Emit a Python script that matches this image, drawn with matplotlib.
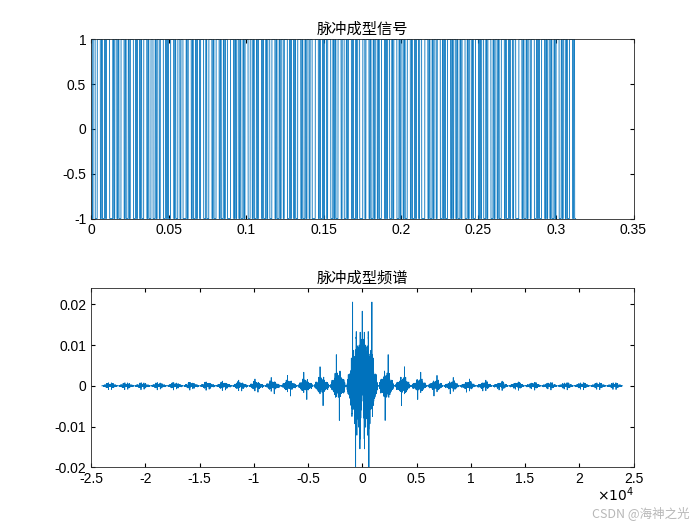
import numpy as np
import matplotlib
matplotlib.use("Agg")
import matplotlib.pyplot as plt

plt.rcParams['font.family'] = ['Liberation Sans', 'Noto Sans CJK SC', 'DejaVu Sans']

fs = 48000
samples_per_bit = 32
bits = (
    "1011001110100101110001011010011101001011100101101001110100110"
    "0101101110010100111010011011000101110100101101110010011101001"
    "1101001011000111010110100101110011010010111010010110011101001"
    "0110111001011010011101001011011000111010010110111001010011101"
    "1001011101001011000110111010010110100111010110010111001011010"
    "0111010010110110001110100101101110010100111010110100101110010"
    "1101001110101100101110010110100111010010110110001110100101101"
    "110010100111010110100101110010110100111010"
)
titles = ["脉冲成型信号", "脉冲成型频谱"]

b = np.array([int(c) for c in bits])
sig = np.repeat(2 * b - 1, samples_per_bit).astype(float)
N = len(sig)
t = np.arange(N) / fs
spec = np.real(np.fft.fftshift(np.fft.fft(sig))) / N / 5
f = (np.arange(N) - N // 2) * fs / N

fig = plt.figure(figsize=(7, 5.25), dpi=100)
col = '#0072BD'
ax1 = fig.add_axes([0.13, 0.5838, 0.775, 0.3412])
ax1.plot(t, sig, color=col, lw=0.6)
ax1.set_xlim(0, 0.35)
ax1.set_ylim(-1, 1)
ax1.set_xticks(np.arange(0, 0.351, 0.05))
ax1.set_xticklabels(["0", "0.05", "0.1", "0.15", "0.2", "0.25", "0.3", "0.35"])
ax1.set_yticks([-1, -0.5, 0, 0.5, 1])
ax1.set_yticklabels(["-1", "-0.5", "0", "0.5", "1"])
ax1.set_title(titles[0], fontsize=11, pad=4)

ax2 = fig.add_axes([0.13, 0.11, 0.775, 0.3412])
ax2.plot(f, spec, color=col, lw=0.6)
ax2.set_xlim(-25000, 25000)
ax2.set_ylim(-0.02, 0.024)
ax2.set_xticks(np.arange(-25000, 25001, 5000))
ax2.set_xticklabels(["-2.5", "-2", "-1.5", "-1", "-0.5", "0", "0.5", "1", "1.5", "2", "2.5"])
ax2.set_yticks([-0.02, -0.01, 0, 0.01, 0.02])
ax2.set_yticklabels(["-0.02", "-0.01", "0", "0.01", "0.02"])
ax2.set_title(titles[1], fontsize=11, pad=4)
ax2.text(1.0, -0.1, r"$\times10^4$", transform=ax2.transAxes, ha='right', va='top', fontsize=10)

for ax in (ax1, ax2):
    ax.tick_params(direction='in', labelsize=10, top=True, right=True, length=3)
    for s in ax.spines.values():
        s.set_color('#262626'); s.set_linewidth(0.6)

fig.text(0.985, 0.01, "CSDN @海神之光", ha='right', va='bottom', fontsize=9,
         color='#888888', alpha=0.6, family=['Noto Sans CJK SC', 'DejaVu Sans'])
fig.savefig("out.png", dpi=100)
